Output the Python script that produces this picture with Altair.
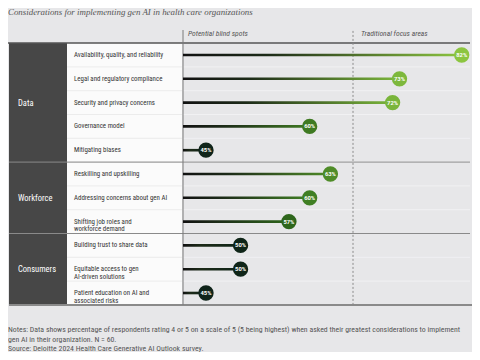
import altair as alt
import pandas as pd

TITLE = "Considerations for implementing gen AI in health care organizations"
HEADERS = ["Potential blind spots", "Traditional focus areas"]
GROUPS = ["Data", "Workforce", "Consumers"]
GROUP_SIZES = [5, 3, 3]
LABELS = [
    "Availability, quality, and reliability",
    "Legal and regulatory compliance",
    "Security and privacy concerns",
    "Governance model",
    "Mitigating biases",
    "Reskilling and upskilling",
    "Addressing concerns about gen AI",
    "Shifting job roles and\nworkforce demand",
    "Building trust to share data",
    "Equitable access to gen\nAI-driven solutions",
    "Patient education on AI and\nassociated risks",
]
VALUES = [82, 73, 72, 60, 45, 63, 60, 57, 50, 50, 45]
COLORS = ["#8cc540", "#7db83c", "#7ab53b", "#3f7a22", "#10241a",
          "#4f8c28", "#407f24", "#2e661c", "#0f2518", "#0f2518", "#10241a"]
NOTES = [
    "Notes: Data shows percentage of respondents rating 4 or 5 on a scale of 5 (5 being highest) when asked their greatest considerations to implement",
    "gen AI in their organization. N = 60.",
]
SOURCE = "Source: Deloitte 2024 Health Care Generative AI Outlook survey."

BG = "#e7e7e9"
SANS = "Liberation Sans Narrow, Roboto Condensed, Roboto"

rows = pd.DataFrame({
    "row": list(range(len(LABELS))),
    "label": LABELS,
    "value": VALUES,
    "color": COLORS,
    "pct": [f"{v}%" for v in VALUES],
})

starts, ends, mids = [], [], []
acc = 0
for n in GROUP_SIZES:
    starts.append(acc - 0.5)
    ends.append(acc + n - 0.5)
    mids.append(acc + (n - 1) / 2)
    acc += n
groups = pd.DataFrame({"group": GROUPS, "y0": starts, "y1": ends, "ymid": mids})
row_bounds = pd.DataFrame({"b": [i + 0.5 for i in range(len(LABELS) - 1)]})
inner_bounds = pd.DataFrame({"b": ends[:-1]})

X = alt.Scale(domain=[16.35, 83.49], nice=False, zero=False)
Y = alt.Scale(domain=[-1.975, 12.479], nice=False, zero=False, reverse=True)

dark_col = alt.Chart(groups).mark_rect(color="#474747").encode(
    x=alt.value(1), x2=alt.value(59),
    y=alt.Y("y0:Q", scale=Y, axis=None), y2="y1:Q")
label_col = alt.Chart(groups).mark_rect(color="#fbfbfb").encode(
    x=alt.value(59), x2=alt.value(174),
    y=alt.Y("y0:Q", scale=Y, axis=None), y2="y1:Q")

faint_label = alt.Chart(row_bounds).mark_rule(color="#ececec", strokeWidth=1).encode(
    x=alt.value(59), x2=alt.value(174), y=alt.Y("b:Q", scale=Y, axis=None))
faint_plot = alt.Chart(row_bounds).mark_rule(color="#f1f1f3", strokeWidth=1).encode(
    x=alt.value(175), x2=alt.value(462), y=alt.Y("b:Q", scale=Y, axis=None))

inner = alt.Chart(inner_bounds).mark_rule(color="#8a8a8a", strokeWidth=1).encode(
    x=alt.value(1), x2=alt.value(462), y=alt.Y("b:Q", scale=Y, axis=None))
top_line = alt.Chart(groups.head(1)).mark_rule(color="#555555", strokeWidth=1.5).encode(
    x=alt.value(0), x2=alt.value(462), y=alt.Y("y0:Q", scale=Y, axis=None))
bottom_line = alt.Chart(groups.tail(1)).mark_rule(color="#8a8a8a", strokeWidth=2).encode(
    x=alt.value(1), x2=alt.value(464), y=alt.Y("y1:Q", scale=Y, axis=None))

vline = alt.Chart(groups.tail(1)).mark_rule(color="#7a7a7a", strokeWidth=1).encode(
    x=alt.value(175), y=alt.Y("y1:Q", scale=Y, axis=None), y2=alt.value(22))
dline = alt.Chart(groups.tail(1)).mark_rule(color="#8a8a8a", strokeWidth=1, strokeDash=[2, 2]).encode(
    x=alt.value(345), y=alt.Y("y1:Q", scale=Y, axis=None), y2=alt.value(22))

header1 = alt.Chart(groups.head(1)).mark_text(
    align="left", baseline="middle", font=SANS, fontStyle="italic", fontSize=7.6, color="#555555",
    text=HEADERS[0]).encode(x=alt.value(180), y=alt.value(26))
header2 = alt.Chart(groups.head(1)).mark_text(
    align="left", baseline="middle", font=SANS, fontStyle="italic", fontSize=7.6, color="#555555",
    text=HEADERS[1]).encode(x=alt.value(353), y=alt.value(26))

title = alt.Chart(groups.head(1)).mark_text(
    align="left", baseline="top", font="Liberation Serif", fontStyle="italic", fontSize=8.9,
    color="#555555", text=TITLE).encode(x=alt.value(0), y=alt.value(0))

group_text = alt.Chart(groups).mark_text(
    align="left", baseline="middle", font=SANS, fontSize=8.5, color="white").encode(
    x=alt.value(10), y=alt.Y("ymid:Q", scale=Y, axis=None), text="group:N")

label_text = alt.Chart(rows).mark_text(
    align="left", baseline="middle", font=SANS, fontSize=6.9, color="#333333",
    lineBreak="\n", lineHeight=7.7).encode(
    x=alt.value(66), y=alt.Y("row:Q", scale=Y, axis=None), text="label:N")

bars = []
for i, c in enumerate(COLORS):
    grad = {"gradient": "linear", "x1": 0, "x2": 1, "y1": 0, "y2": 0,
            "stops": [{"offset": 0, "color": "#111111"},
                      {"offset": 0.3, "color": "#1c2a18"},
                      {"offset": 1, "color": c}]}
    bars.append(
        alt.Chart(rows).transform_filter(alt.datum.row == i)
        .transform_calculate(ya="datum.row - 0.055", yb="datum.row + 0.055")
        .mark_rect(color=grad)
        .encode(x=alt.X("value:Q", scale=X, axis=None), x2=alt.value(175),
                y=alt.Y("ya:Q", scale=Y, axis=None), y2="yb:Q")
    )

dots = alt.Chart(rows).mark_circle(size=235, opacity=1).encode(
    x=alt.X("value:Q", scale=X, axis=None), y=alt.Y("row:Q", scale=Y, axis=None),
    color=alt.Color("color:N", scale=None))
dot_text = alt.Chart(rows).mark_text(
    align="center", baseline="middle", font="Roboto", fontSize=5.8, fontWeight="bold", color="white").encode(
    x=alt.X("value:Q", scale=X, axis=None), y=alt.Y("row:Q", scale=Y, axis=None), text="pct:N")

notes = alt.Chart(pd.DataFrame({"t": NOTES, "yy": [322, 332]})).mark_text(
    align="left", baseline="middle", font=SANS, fontSize=7.8, color="#555555").encode(
    x=alt.value(0), y=alt.Y("yy:Q", scale=None), text="t:N")
source = alt.Chart(groups.head(1)).mark_text(
    align="left", baseline="middle", font=SANS, fontSize=7.8, color="#555555", text=SOURCE).encode(
    x=alt.value(0), y=alt.value(341))

chart = alt.layer(
    dark_col, label_col, faint_label, faint_plot, inner, top_line, bottom_line,
    vline, dline, header1, header2, title, group_text, label_text,
    *bars, dots, dot_text, notes, source
).properties(
    width=464, height=344, padding=0, background=BG,
    autosize=alt.AutoSizeParams(type="none"),
).configure_view(stroke=None)

chart.save("out.html", embed_options={"renderer": "svg", "actions": False})
